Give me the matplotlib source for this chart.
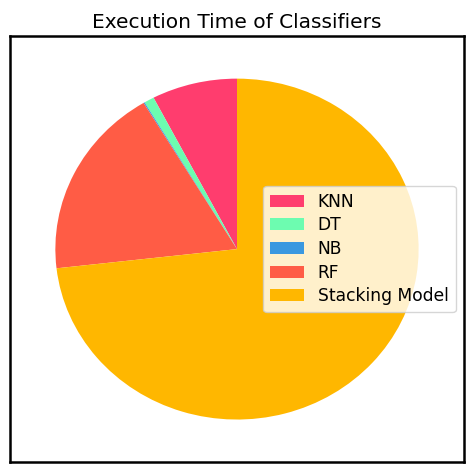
import matplotlib
matplotlib.use("Agg")
import matplotlib.pyplot as plt

labels = ["KNN", "DT", "NB", "RF", "Stacking Model"]
times = [7.6, 0.9, 0.1, 18.2, 73.2]
colors = ["#ff3d6e", "#6dfcb0", "#3a98e0", "#ff5c45", "#ffb700"]

fig = plt.figure(figsize=(4.74, 4.74), dpi=100)
ax = fig.add_axes([0.021, 0.025, 0.958, 0.899])

wedges, _ = ax.pie(times, colors=colors, startangle=90, frame=True)
ax.set_aspect("auto")
ax.set_xlim(-1.25, 1.25)
ax.set_ylim(-1.25, 1.25)
ax.set_xticks([])
ax.set_yticks([])
for s in ax.spines.values():
    s.set_linewidth(1.8)

ax.set_title("Execution Time of Classifiers", fontsize=14.5)
ax.legend(wedges, labels, loc="center right", fontsize=12.3, labelspacing=0.33)

fig.savefig("out.png", dpi=100)
